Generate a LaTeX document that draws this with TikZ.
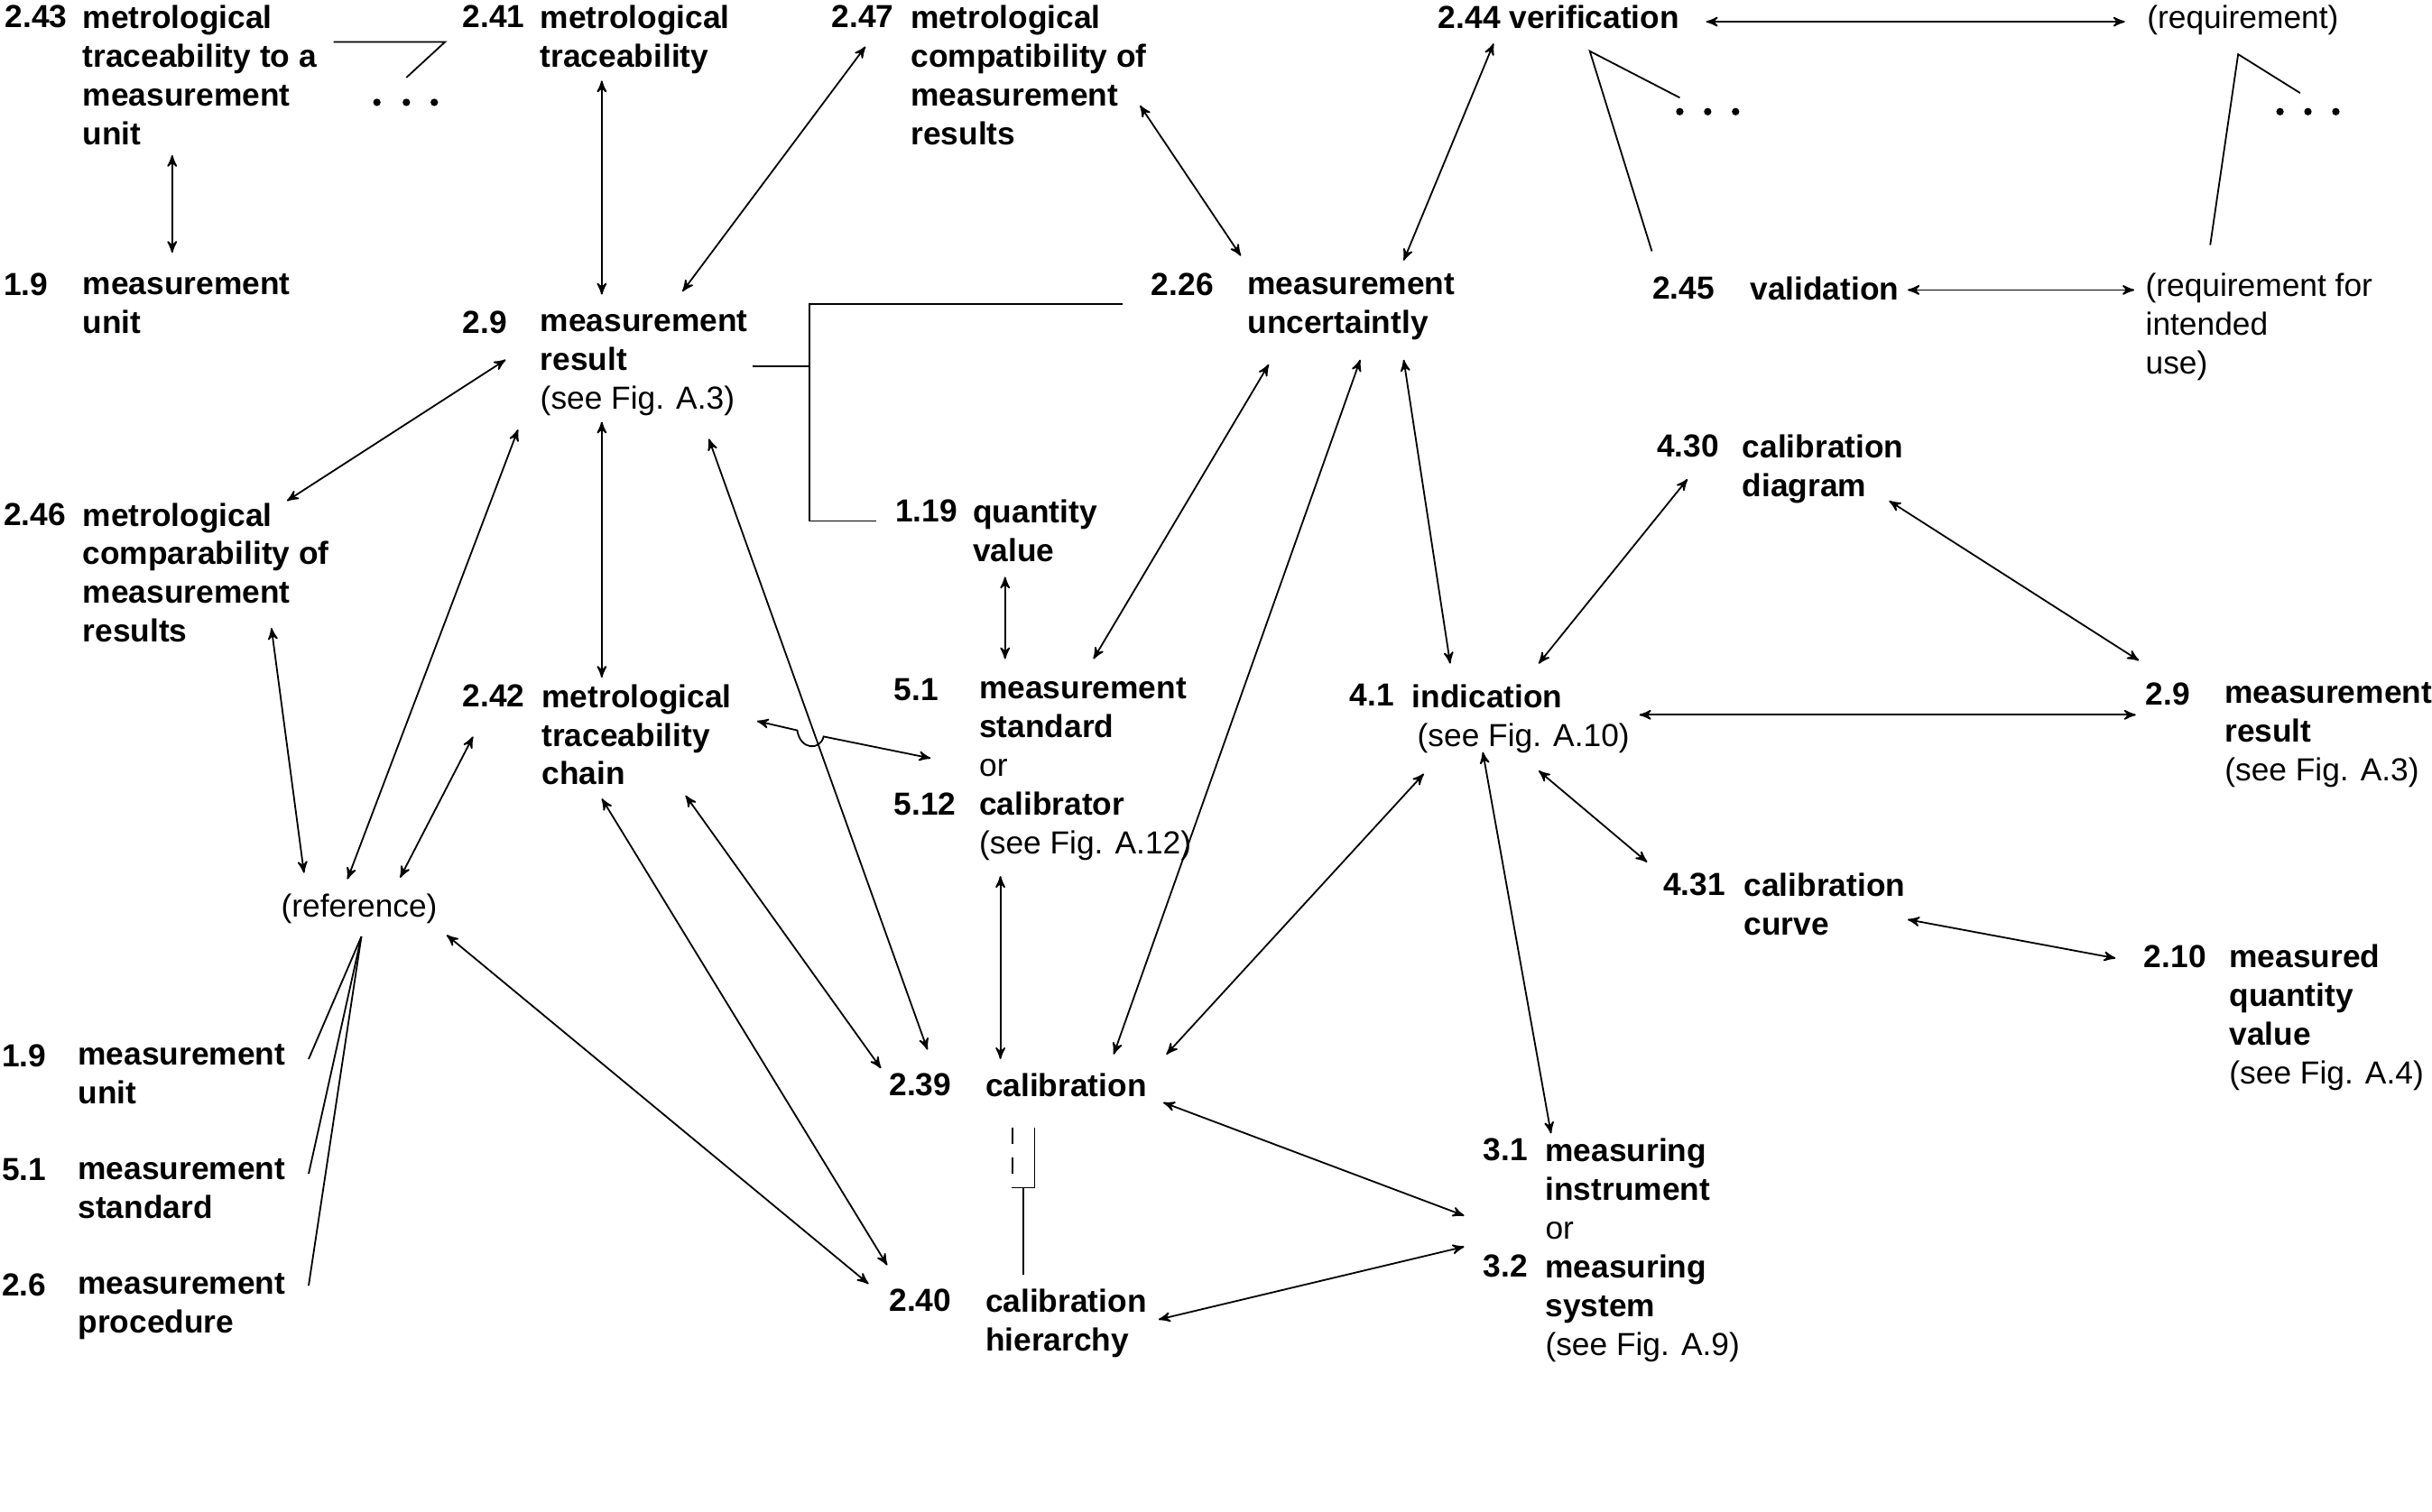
\documentclass[tikz,border=0pt]{standalone}
\usepackage{fontspec}
\setmainfont{Liberation Sans}
\usetikzlibrary{arrows}
\tikzset{
  term/.style={anchor=north west,inner sep=0pt,align=left,font=\fontsize{11.7}{14.2}\selectfont\bfseries},
  plain/.style={anchor=north west,inner sep=0pt,align=left,font=\fontsize{11.7}{14.2}\selectfont},
  link/.style={<->,>=stealth',semithick},
  bar/.style={semithick}
}
\newcommand{\nb}[1]{{\normalfont #1}}
\begin{document}
\begin{tikzpicture}[x=0.02cm,y=-0.02cm]
\useasboundingbox (0,0) rectangle (1568,975);
% numbers
\foreach \n/\x/\y/\t in {n243/3/3/2.43,n241/298/3/2.41,n247/536/3/2.47,n19a/2/176/1.9,n29a/298/200/2.9,
  n226/742/176/2.26,n245/1065/178/2.45,n430/1068/280/4.30,n246/2/324/2.46,n119/577/322/1.19,
  n242/298/441/2.42,n51a/576/437/5.1,n512/576/511/5.12,n41/870/441/4.1,n29b/1383/440/2.9,
  n431/1072/563/4.31,n210/1382/609/2.10,n19b/1/673/1.9,n239/573/692/2.39,n31/956/734/3.1,
  n32/956/809/3.2,n51b/1/747/5.1,n26/1/821/2.6,n240/573/831/2.40}
  \node[term] (\n) at (\x,\y) {\t};
% terms
\node[term] (t243) at (53,3) {metrological\\traceability to a\\measurement\\unit};
\node[term] (t241) at (348,3) {metrological\\traceability};
\node[term] (t247) at (587,3) {metrological\\compatibility of\\measurement\\results};
\node[term] (t244) at (927,3) {2.44 verification};
\node[plain] (req) at (1384,3) {(requirement)};
\node[term] (t19a) at (53,176) {measurement\\unit};
\node[term] (t29a) at (348,200) {measurement\\result\\\nb{(see Fig. A.3)}};
\node[term] (t226) at (804,176) {measurement\\uncertaintly};
\node[term] (t245) at (1128,178) {validation};
\node[plain] (reqi) at (1383,176) {(requirement for\\intended\\use)};
\node[term] (t430) at (1123,280) {calibration\\diagram};
\node[term] (t246) at (53,324) {metrological\\comparability of\\measurement\\results};
\node[term] (t119) at (627,322) {quantity\\value};
\node[term] (t242) at (349,441) {metrological\\traceability\\chain};
\node[term] (t51a) at (631,437) {measurement\\standard\\\nb{or}\\calibrator\\\nb{(see Fig. A.12)}};
\node[term] (t41) at (910,441) {indication\\\nb{\hspace*{2pt}(see Fig. A.10)}};
\node[term] (t29b) at (1434,440) {measurement\\result\\\nb{(see Fig. A.3)}};
\node[plain] (ref) at (181,576) {(reference)};
\node[term] (t431) at (1124,563) {calibration\\curve};
\node[term] (t210) at (1437,609) {measured\\quantity\\value\\\nb{(see Fig. A.4)}};
\node[term] (t19b) at (50,673) {measurement\\unit};
\node[term] (t239) at (635,692) {calibration};
\node[term] (t31) at (996,734) {measuring\\instrument\\\nb{or}\\measuring\\system\\\nb{(see Fig. A.9)}};
\node[term] (t51b) at (50,747) {measurement\\standard};
\node[term] (t26) at (50,821) {measurement\\procedure};
\node[term] (t240) at (635,831) {calibration\\hierarchy};
% two-headed links
\foreach \xa/\ya/\xb/\yb [count=\i] in {111/100/111/163, 388/52/388/190, 440/188/558/30, 735/68/800/165,
  905/168/963/28, 1100/14/1370/14, 1230/187/1376/187, 185/323/326/232, 388/272/388/437,
  224/567/334/277, 457/283/598/677, 705/425/818/235, 718/680/877/232, 905/232/935/428,
  992/428/1088/309, 1218/323/1379/426, 1057/461/1377/461, 648/372/648/425, 645/565/645/683,
  752/680/918/499, 956/485/1000/731, 992/497/1062/556, 1230/593/1364/618, 175/405/196/563,
  258/566/305/475, 442/513/568/689, 388/515/572/816, 288/603/560/828, 750/711/944/784,
  747/851/944/804}
{
  \coordinate (a\i) at (\xa,\ya);
  \coordinate (b\i) at (\xb,\yb);
  \draw[link] (a\i) -- (b\i);
}
% link with a hop
\coordinate (hopA) at (488,465);
\coordinate (hopB) at (600,489);
\draw[link] (hopA) -- (514,471) .. controls (516,484) and (529,484) .. (531,475) -- (hopB);
% generic/partitive bars
\coordinate (g243) at (215,27);
\draw[bar] (g243) -- (287,27) -- (262,50);
\coordinate (g29) at (485,236);
\draw[bar] (g29) -- (522,236);
\draw[bar] (522,336) -- (522,196) -- (724,196);
\draw[bar] (522,336) -- (565,336);
\coordinate (g244) at (1025,33);
\draw[bar] (1083,63) -- (g244) -- (1065,162);
\coordinate (greq) at (1443,35);
\draw[bar] (1425,158) -- (greq) -- (1483,60);
\coordinate (gref) at (233,604);
\foreach \yy in {683,757,829}
  \draw[bar] (gref) -- (199,\yy);
% calibration hierarchy sign
\draw[bar,dashed,dash pattern=on 6pt off 5pt] (653,727) -- (653,766);
\draw[bar] (653,766) -- (667,766) -- (667,727);
\draw[bar] (660,766) -- (660,822);
% dots
\foreach \xx in {243,262,280,1083,1101,1119,1470,1488,1506}
  \fill (\xx,\ifnum\xx<300 66\else 72\fi) circle (2.4);
\end{tikzpicture}
\end{document}
